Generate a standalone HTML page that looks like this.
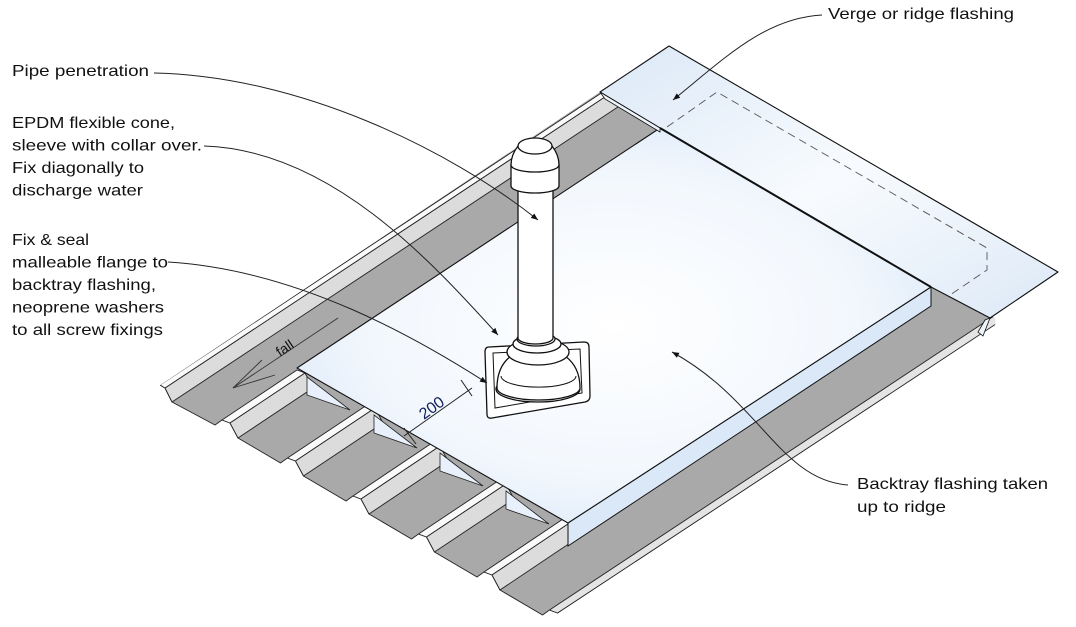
<!DOCTYPE html>
<html><head><meta charset="utf-8"><style>
html,body{margin:0;padding:0;background:#fff;}
svg{display:block;}
text{font-family:"Liberation Sans",sans-serif;font-size:16px;fill:#111;}
</style></head><body>
<svg width="1076" height="627" viewBox="0 0 1076 627" xmlns="http://www.w3.org/2000/svg">
<defs>
<radialGradient id="bt" cx="0.5" cy="0.5" r="0.7">
<stop offset="0" stop-color="#ffffff"/><stop offset="0.55" stop-color="#f2f7fd"/><stop offset="1" stop-color="#cfe1f6"/>
</radialGradient>
<linearGradient id="fl" x1="0" y1="0" x2="1" y2="1">
<stop offset="0" stop-color="#dbe8f7"/><stop offset="0.5" stop-color="#f8fbfe"/><stop offset="1" stop-color="#dde9f7"/>
</linearGradient>
<marker id="ar" viewBox="0 0 10 10" refX="10" refY="5" markerWidth="9" markerHeight="7" orient="auto" markerUnits="userSpaceOnUse">
<path d="M0,1 L10,5 L0,9 Z" fill="#111"/>
</marker>
<clipPath id="sc"><polygon points="150,392 600,92 995,318 1000,627 150,627"/></clipPath>
</defs>

<!-- roof sheet -->
<g clip-path="url(#sc)" stroke="#222" stroke-width="0.9" stroke-linejoin="round">
<polygon fill="#a9a9a9" points="160,385 165,388 172,402 215,425 222,420 230,423 238,438 280.5,463 287.5,458 295.5,461 303.5,476 346,501 353,496 361,499 369,514 411.5,539 418.5,534 426.5,537 434.5,552 477,577 484,572 492,575 500,590 542.5,615 549.5,610 557.5,613 1019,308 622,-220"/>
<!-- lip -->
<polygon fill="#dcdcdc" points="165,388 172,402 633,97 626,83"/>
<polygon fill="#fafafa" points="160,385 165,388 626,83 621,80"/>
<!-- ribs (short, rest hidden under backtray) -->
<polygon fill="#fafafa" points="222,420 230,423 305,373 297,370"/>
<polygon fill="#dcdcdc" points="230,423 238,438 313,388 305,373"/>
<polygon fill="#fafafa" points="287.5,458 295.5,461 375,408 367,405"/>
<polygon fill="#dcdcdc" points="295.5,461 303.5,476 383,423 375,408"/>
<polygon fill="#fafafa" points="353,496 361,499 440,446 432,443"/>
<polygon fill="#dcdcdc" points="361,499 369,514 448,461 440,446"/>
<polygon fill="#fafafa" points="418.5,534 426.5,537 506,484 498,481"/>
<polygon fill="#dcdcdc" points="426.5,537 434.5,552 514,499 506,484"/>
<polygon fill="#fafafa" points="484,572 492,575 571,522 563,519"/>
<polygon fill="#dcdcdc" points="492,575 500,590 579,537 571,522"/>
<polygon fill="#e4e4e4" points="549.5,610 557.5,613 1002,320 994,316"/>
</g>

<!-- backtray front face triangles -->
<g fill="#e8f1fb" stroke="#222" stroke-width="0.8">
<polygon points="307,377 350,410 307,395"/>
<polygon points="374,415 417,448 374,433"/>
<polygon points="440,453 483,486 440,471"/>
<polygon points="506,491 549,524 506,509"/>
</g>
<!-- backtray -->
<polygon fill="#dbe8f7" stroke="#111" stroke-width="1" points="568,523 931,287 931,306 568,546"/>
<polygon fill="url(#bt)" stroke="#111" stroke-width="1.1" stroke-linejoin="round" points="297,368 660,128 931,287 568,523"/>

<!-- flashing -->
<polygon fill="url(#fl)" stroke="#111" stroke-width="1.1" stroke-linejoin="round" points="600,92 669,46 1058,272 990,318 931,287 660,128"/>
<polyline fill="none" stroke="#111" stroke-width="2" points="660,128 931,287"/>
<polygon fill="#eef4fb" stroke="#111" stroke-width="0.8" points="600,92 605,99 660,132 660,128"/>
<polygon fill="#eef4fb" stroke="#111" stroke-width="0.8" points="990,318 983,336 978,332 985,320"/>
<polyline fill="none" stroke="#555" stroke-width="0.9" stroke-dasharray="8,5" points="667,127 717,92 987,248 987,270 950,295"/>

<!-- pipe -->
<g stroke="#111" stroke-width="1.3" fill="#fff">
<path d="M489,347 L584,342 Q589,342 589,347 L590,396 Q590,401 585,402 L492,418 Q487,419 487,414 L485,352 Q485,347 489,347 Z"/>
<path d="M493,353 L580,349 L582,393 L495,408 Z" stroke-width="1"/>
<ellipse cx="538" cy="389" rx="42" ry="13"/>
<path d="M497,388 C497,370 504,360 514,354 L562,354 C572,360 580,370 580,388 A41.5,12 0 0 1 497,388 Z"/>
<path d="M501,376 A37,11 0 0 0 576,376" fill="none" stroke-width="1"/>
<ellipse cx="538" cy="352" rx="31" ry="13"/>
<ellipse cx="537" cy="344" rx="24" ry="9"/>
<ellipse cx="536" cy="339" rx="19" ry="7"/>
<path d="M518,188 L518,338 A17.5,6 0 0 0 553,338 L553,188 Z"/>
<path d="M511,165 L511,186 A24,7 0 0 0 559,186 L559,165 Z"/>
<path d="M518,146 Q511,155 511,165 A24,7 0 0 0 559,165 Q559,155 552,146 Z"/>
<ellipse cx="535" cy="146" rx="17" ry="8"/>
</g>

<!-- fall arrow -->
<g stroke="#333" stroke-width="0.9" fill="none">
<line x1="233" y1="388" x2="338" y2="318"/>
<polyline points="262,360 233,388 275,375"/>
</g>
<text x="0" y="0" transform="translate(280,357) rotate(-34)" style="font-size:14px">fall</text>

<!-- 200 dimension -->
<g stroke="#222" stroke-width="1" fill="none">
<line x1="404" y1="436" x2="472" y2="388"/>
<line x1="404" y1="428" x2="416" y2="444"/>
<line x1="461" y1="380" x2="472" y2="396"/>
</g>
<text x="0" y="0" transform="translate(424,420) rotate(-36)" style="fill:#10205a">200</text>

<!-- leaders -->
<g stroke="#222" stroke-width="1" fill="none" marker-end="url(#ar)">
<path d="M822,15 C765,18 725,58 673,100"/>
<path d="M154,73 C300,76 450,150 538,220"/>
<path d="M204,146 C330,150 430,260 498,335"/>
<path d="M168,262 C300,270 420,340 487,383"/>
<path d="M848,485 C780,480 760,400 672,352"/>
</g>

<!-- labels -->
<text x="828" y="19" textLength="186" lengthAdjust="spacingAndGlyphs">Verge or ridge flashing</text>
<text x="12" y="76" textLength="137" lengthAdjust="spacingAndGlyphs">Pipe penetration</text>
<text x="12" y="128" textLength="163" lengthAdjust="spacingAndGlyphs">EPDM flexible cone,</text>
<text x="12" y="150.5" textLength="190" lengthAdjust="spacingAndGlyphs">sleeve with collar over.</text>
<text x="12" y="173" textLength="132" lengthAdjust="spacingAndGlyphs">Fix diagonally to</text>
<text x="12" y="195.5" textLength="131" lengthAdjust="spacingAndGlyphs">discharge water</text>
<text x="12" y="245" textLength="77" lengthAdjust="spacingAndGlyphs">Fix &amp; seal</text>
<text x="12" y="267.5" textLength="156" lengthAdjust="spacingAndGlyphs">malleable flange to</text>
<text x="12" y="290" textLength="144" lengthAdjust="spacingAndGlyphs">backtray flashing,</text>
<text x="12" y="312.5" textLength="152" lengthAdjust="spacingAndGlyphs">neoprene washers</text>
<text x="12" y="335" textLength="151" lengthAdjust="spacingAndGlyphs">to all screw fixings</text>
<text x="857" y="489" textLength="191" lengthAdjust="spacingAndGlyphs">Backtray flashing taken</text>
<text x="857" y="512" textLength="89" lengthAdjust="spacingAndGlyphs">up to ridge</text>
</svg>
</body></html>
